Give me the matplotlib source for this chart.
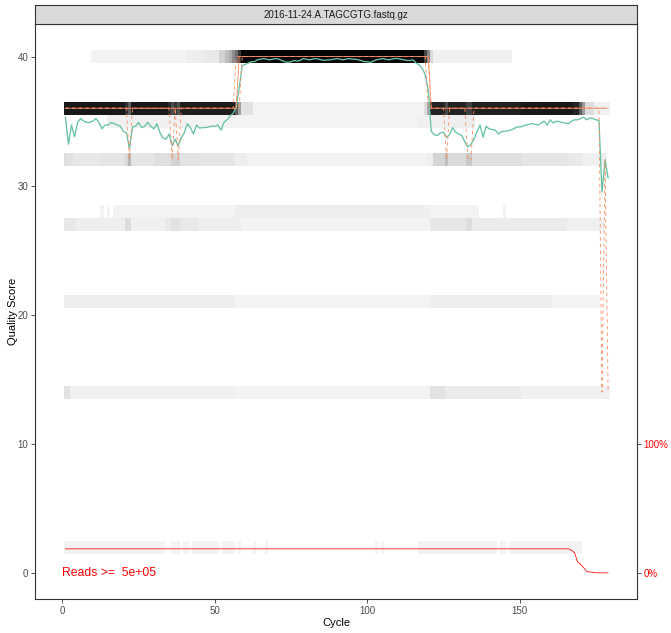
import numpy as np
import matplotlib
matplotlib.use("Agg")
import matplotlib.pyplot as plt
from matplotlib.colors import LinearSegmentedColormap

plt.rcParams['font.family'] = ['Liberation Sans', 'DejaVu Sans']

# ---- data ----
file_name = "2016-11-24.A.TAGCGTG.fastq.gz"
n_cycles = 179
reads_label = "Reads >=  5e+05"

mean_q = [35.3, 33.2, 34.7, 33.8, 34.9, 35.2, 35.0, 34.9, 34.9, 35.0,
          35.2, 34.9, 34.4, 34.7, 34.7, 34.9, 34.8, 34.7, 34.6, 34.2,
          34.1, 32.9, 34.55, 34.6, 34.9, 34.5, 34.6, 34.9, 34.6, 34.4,
          34.8, 34.1, 33.7, 33.6, 34.0, 33.1, 33.6, 33.1, 33.7, 34.1,
          34.8, 34.5, 34.0, 34.7, 34.45, 34.5, 34.5, 34.55, 34.6, 34.6,
          34.7, 34.3, 34.9, 35.1, 35.4, 35.6, 36.1, 37.6, 39.3, 39.4,
          39.5, 39.6, 39.6, 39.75, 39.8, 39.85, 39.8, 39.75, 39.8, 39.85,
          39.8, 39.7, 39.6, 39.55, 39.6, 39.7, 39.65, 39.7, 39.85, 39.8,
          39.75, 39.8, 39.85, 39.8, 39.75, 39.7, 39.75, 39.75, 39.8, 39.85,
          39.8, 39.75, 39.8, 39.85, 39.8, 39.8, 39.75, 39.7, 39.6, 39.6,
          39.55, 39.65, 39.75, 39.8, 39.85, 39.8, 39.75, 39.8, 39.85, 39.85,
          39.8, 39.75, 39.7, 39.7, 39.75, 39.5, 39.35, 39.1, 38.6, 37.4,
          34.2, 33.95, 33.9, 34.1, 34.15, 33.75, 33.95, 34.5, 34.15, 34.0,
          33.9, 33.4, 33.0, 33.2, 33.6, 34.2, 34.7, 33.75, 34.6, 34.4,
          34.35, 34.3, 34.0, 34.2, 34.2, 34.25, 34.3, 34.4, 34.55, 34.55,
          34.6, 34.7, 34.75, 34.8, 34.75, 34.7, 34.85, 35.0, 34.7, 35.1,
          34.85, 35.0, 34.95, 34.9, 34.85, 34.8, 35.0, 35.1, 35.1, 35.2,
          35.3, 35.1, 35.25, 35.2, 35.1, 35.05, 29.5, 32.0, 30.6]

# quartiles as runs of (first cycle, last cycle, score)
q25_runs = [(1, 21, 36), (22, 22, 32), (23, 35, 36), (36, 36, 32), (37, 37, 36),
            (38, 38, 32), (39, 58, 36), (59, 119, 40), (120, 125, 36), (126, 126, 32),
            (127, 132, 36), (133, 134, 32), (135, 176, 36), (177, 177, 14),
            (178, 178, 32), (179, 179, 14)]
q50_runs = [(1, 57, 36), (58, 120, 40), (121, 179, 36)]
q75_runs = [(1, 56, 36), (57, 120, 40), (121, 179, 36)]

# fraction of reads (10 = 100%)
reads_frac = [1.86] * 166 + [1.75, 1.55, 0.85, 0.65, 0.4, 0.1, 0.07, 0.04, 0.01,
                             0.0, 0.0, 0.0, 0.0]

# tile runs per score: (first cycle, last cycle, relative count in %)
tiles_40 = [(10, 40, 1), (41, 46, 3), (47, 51, 5), (52, 53, 14), (54, 54, 22),
            (55, 55, 30), (56, 56, 42), (57, 57, 55), (58, 58, 78), (59, 118, 97),
            (119, 119, 72), (120, 120, 45), (121, 121, 12), (122, 147, 2)]
tiles_36 = [(1, 20, 90), (21, 21, 80), (22, 22, 62), (23, 34, 90), (35, 35, 82),
            (36, 36, 68), (37, 37, 78), (38, 38, 68), (39, 56, 88), (57, 57, 62),
            (58, 58, 35), (59, 62, 8), (63, 118, 1), (119, 119, 10), (120, 120, 32),
            (121, 125, 86), (126, 126, 70), (127, 132, 86), (133, 134, 74),
            (135, 150, 87), (151, 167, 90), (168, 169, 85), (170, 170, 62),
            (171, 171, 38), (172, 174, 10), (175, 179, 2)]
tiles_35 = [(15, 40, 2), (41, 116, 1), (117, 128, 2), (129, 135, 3)]
tiles_32 = [(1, 1, 10), (2, 3, 8), (4, 12, 6), (13, 20, 7), (21, 21, 12), (22, 22, 25),
            (23, 30, 7), (31, 35, 9), (36, 38, 14), (39, 45, 8), (46, 56, 7),
            (57, 60, 3), (61, 119, 1), (120, 121, 3), (122, 125, 13), (126, 126, 22),
            (127, 132, 11), (133, 134, 18), (135, 150, 9), (151, 165, 7),
            (166, 170, 5), (171, 178, 2)]
tiles_28 = [(13, 13, 1), (15, 15, 1), (17, 56, 1), (57, 120, 3), (121, 136, 1),
            (145, 145, 1)]
tiles_27 = [(1, 4, 6), (5, 20, 3), (21, 22, 10), (23, 33, 2), (34, 35, 5),
            (36, 38, 8), (39, 44, 5), (45, 58, 3), (59, 120, 1), (121, 132, 6),
            (133, 134, 10), (135, 165, 4), (166, 177, 2)]
tiles_21 = [(1, 56, 3), (57, 120, 1), (121, 160, 3), (161, 176, 1)]
tiles_14 = [(1, 2, 8), (3, 56, 2), (57, 120, 1), (121, 125, 8), (126, 150, 4),
            (151, 179, 2)]
tiles_2 = [(1, 33, 1), (36, 38, 1), (40, 41, 1), (43, 51, 1), (53, 56, 1),
           (58, 58, 1), (63, 63, 1), (67, 67, 1), (103, 103, 1), (105, 105, 1),
           (117, 142, 1), (144, 145, 1), (147, 170, 1)]

tile_runs = {40: tiles_40, 36: tiles_36, 35: tiles_35, 32: tiles_32, 28: tiles_28,
             27: tiles_27, 21: tiles_21, 14: tiles_14, 2: tiles_2}


def expand(runs):
    out = np.full(n_cycles, np.nan)
    for a, b, v in runs:
        out[a - 1:b] = v
    return out


cycles = np.arange(1, n_cycles + 1)
grid = np.full((42, n_cycles), np.nan)
for score, runs in tile_runs.items():
    grid[score] = expand(runs)

fig = plt.figure(figsize=(6.71, 6.33), dpi=100)
W, H = 671, 633
left, right, top, bottom = 35, 637, 24, 599
ax = fig.add_axes([left / W, (H - bottom) / H, (right - left) / W, (bottom - top) / H])

cmap = LinearSegmentedColormap.from_list("qp", ["#F5F5F5", "#000000"])
xe = np.arange(0.5, n_cycles + 1.0, 1.0)
ye = np.arange(-0.5, 42.0, 1.0)
ax.pcolormesh(xe, ye, np.ma.masked_invalid(grid), cmap=cmap, vmin=0, vmax=100,
              shading='flat', antialiased=False, linewidth=0)

ax.plot(cycles, mean_q, color="#66C2A5", lw=0.95, zorder=3)
ax.plot(cycles, expand(q25_runs), color="#FC8D62", lw=0.6, dashes=(4, 4), zorder=4)
ax.plot(cycles, expand(q50_runs), color="#FC8D62", lw=0.6, zorder=4)
ax.plot(cycles, expand(q75_runs), color="#FC8D62", lw=0.6, dashes=(4, 4), zorder=4)
ax.plot(cycles, reads_frac, color="red", lw=0.55, zorder=4)
ax.text(0, 0, reads_label, color="red", ha="left", va="center", fontsize=8.8)

ax.set_xlim(-8.975, 188.475)
ax.set_ylim(-2.025, 42.525)
ax.set_xticks([0, 50, 100, 150])
ax.set_yticks([0, 10, 20, 30, 40])
ax.set_xlabel("Cycle", fontsize=8, color="black", labelpad=1.5)
ax.set_ylabel("Quality Score", fontsize=8, color="black", labelpad=0)
ax.tick_params(length=2.7, width=0.6, color="#333333", labelsize=7,
               labelcolor="#4D4D4D", pad=2)
for s in ax.spines.values():
    s.set_color("#333333")
    s.set_linewidth(0.8)

sec = ax.twinx()
sec.set_ylim(ax.get_ylim())
sec.set_yticks([0, 10])
sec.set_yticklabels(["0%", "100%"])
sec.tick_params(length=2.7, width=0.6, color="#333333", labelsize=7,
                labelcolor="red", pad=2)
for s in sec.spines.values():
    s.set_visible(False)

# facet strip
strip = fig.add_axes([left / W, (H - top) / H, (right - left) / W, 19 / H])
strip.set_facecolor("#D9D9D9")
strip.set_xticks([])
strip.set_yticks([])
for s in strip.spines.values():
    s.set_color("#333333")
    s.set_linewidth(0.8)
strip.text(0.5, 0.5, file_name, ha="center", va="center", fontsize=7,
           color="#1A1A1A", transform=strip.transAxes)

fig.savefig("out.png", dpi=100)
